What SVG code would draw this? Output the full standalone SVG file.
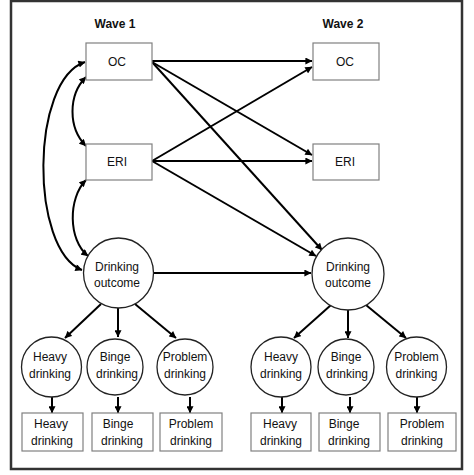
<svg xmlns="http://www.w3.org/2000/svg" width="474" height="475" viewBox="0 0 474 475">
<defs>
<marker id="ah" viewBox="0 0 10 10" refX="9.5" refY="5" markerWidth="8" markerHeight="7" markerUnits="userSpaceOnUse" orient="auto-start-reverse">
<path d="M0,0 L10,5 L0,10 z" fill="#000"/>
</marker>
<style>
.box{fill:#fff;stroke:#808080;stroke-width:1.2}
.circ{fill:#fff;stroke:#222;stroke-width:1.3}
.t{font-family:"Liberation Sans",Arial,sans-serif;font-size:12px;fill:#111;text-anchor:middle}
.h{font-family:"Liberation Sans",Arial,sans-serif;font-size:12px;font-weight:bold;fill:#111;text-anchor:middle}
.c{fill:none;stroke:#000;stroke-width:2}
.c path,.c line{marker-end:url(#ah)}
.d{marker-start:url(#ah)}
</style>
</defs>
<rect width="474" height="475" fill="#fff"/>
<rect x="11" y="1" width="451" height="468" fill="none" stroke="#333" stroke-width="2.5"/>
<text class="h" x="115" y="28">Wave 1</text>
<text class="h" x="343" y="28">Wave 2</text>

<g id="connectors" class="c">
<line x1="152" y1="61" x2="312" y2="61"/>
<line x1="152" y1="62" x2="312" y2="155"/>
<line x1="152" y1="62" x2="322" y2="250"/>
<line x1="152" y1="161" x2="312" y2="67"/>
<line x1="152" y1="161" x2="312" y2="161"/>
<line x1="152" y1="161" x2="316" y2="256"/>
<line x1="154" y1="273" x2="311" y2="273"/>
<path class="d" d="M85,62 C30,80 30,250 82,270"/>
<path class="d" d="M86,77 C68,95 68,128 86,146"/>
<path class="d" d="M86,180 C68,198 68,240 88,256"/>
<line x1="101" y1="304" x2="65" y2="338"/>
<line x1="118" y1="308" x2="118" y2="337"/>
<line x1="135" y1="304" x2="176" y2="338"/>
<line x1="331" y1="305" x2="294" y2="338"/>
<line x1="348" y1="310" x2="348" y2="338"/>
<line x1="366" y1="305" x2="406" y2="338"/>
<line x1="52" y1="397" x2="52" y2="413"/>
<line x1="118" y1="397" x2="118" y2="413"/>
<line x1="190" y1="397" x2="190" y2="413"/>
<line x1="282" y1="397" x2="282" y2="413"/>
<line x1="350" y1="397" x2="350" y2="413"/>
<line x1="417" y1="397" x2="417" y2="413"/>
</g>

<g id="oc1"><rect class="box" x="86" y="43" width="66" height="37"/><text class="t" x="117" y="66">OC</text></g>
<g id="eri1"><rect class="box" x="86" y="144" width="66" height="36"/><text class="t" x="117" y="166">ERI</text></g>
<g id="oc2"><rect class="box" x="313" y="43" width="66" height="37"/><text class="t" x="345" y="66">OC</text></g>
<g id="eri2"><rect class="box" x="313" y="144" width="66" height="36"/><text class="t" x="345" y="166">ERI</text></g>

<g id="do1"><circle class="circ" cx="118.5" cy="273" r="35"/><text class="t" x="117" y="271">Drinking</text><text class="t" x="117" y="287">outcome</text></g>
<g id="do2"><circle class="circ" cx="348" cy="274" r="36"/><text class="t" x="348" y="271">Drinking</text><text class="t" x="348" y="287">outcome</text></g>

<g id="heavy1"><circle class="circ" cx="51.5" cy="367" r="30"/><text class="t" x="50" y="361">Heavy</text><text class="t" x="50" y="378">drinking</text></g>
<g id="binge1"><circle class="circ" cx="115" cy="367" r="28"/><text class="t" x="115" y="361">Binge</text><text class="t" x="117" y="378">drinking</text></g>
<g id="problem1"><circle class="circ" cx="185" cy="367" r="28"/><text class="t" x="185" y="361">Problem</text><text class="t" x="185" y="378">drinking</text></g>
<g id="heavy2"><circle class="circ" cx="281" cy="367" r="30"/><text class="t" x="281" y="361">Heavy</text><text class="t" x="281" y="378">drinking</text></g>
<g id="binge2"><circle class="circ" cx="346" cy="367" r="28"/><text class="t" x="346" y="361">Binge</text><text class="t" x="347" y="378">drinking</text></g>
<g id="problem2"><circle class="circ" cx="416.5" cy="367" r="30"/><text class="t" x="416.5" y="361">Problem</text><text class="t" x="416.5" y="378">drinking</text></g>

<g id="heavy1obs"><rect class="box" x="22" y="413" width="61" height="38"/><text class="t" x="51" y="428">Heavy</text><text class="t" x="52" y="445">drinking</text></g>
<g id="binge1obs"><rect class="box" x="92" y="413" width="61" height="38"/><text class="t" x="118" y="428">Binge</text><text class="t" x="122" y="445">drinking</text></g>
<g id="problem1obs"><rect class="box" x="160" y="413" width="62" height="38"/><text class="t" x="191" y="428">Problem</text><text class="t" x="191" y="445">drinking</text></g>
<g id="heavy2obs"><rect class="box" x="251" y="413" width="60" height="38"/><text class="t" x="280" y="428">Heavy</text><text class="t" x="281" y="445">drinking</text></g>
<g id="binge2obs"><rect class="box" x="319" y="413" width="61" height="38"/><text class="t" x="344" y="428">Binge</text><text class="t" x="349" y="445">drinking</text></g>
<g id="problem2obs"><rect class="box" x="388" y="413" width="68" height="38"/><text class="t" x="422" y="428">Problem</text><text class="t" x="422" y="445">drinking</text></g>
</svg>
